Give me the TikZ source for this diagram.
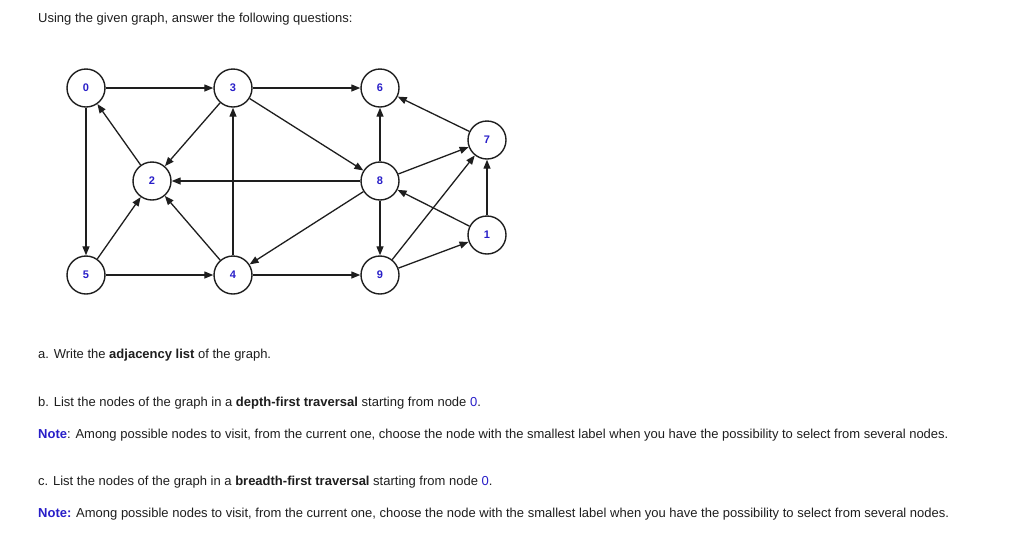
\documentclass[tikz,border=0pt]{standalone}
\usepackage{fontspec}
\setmainfont{Liberation Sans}
\usetikzlibrary{arrows.meta}
\definecolor{nblue}{RGB}{40,30,200}
\definecolor{ink}{RGB}{30,30,30}
\begin{document}
\begin{tikzpicture}[x=1pt,y=-1pt,
  vtx/.style={circle,draw=ink,line width=1.4pt,minimum size=38pt,inner sep=0pt,font=\fontsize{11}{13}\selectfont\bfseries,text=nblue},
  edge/.style={-{Triangle[length=9pt,width=7pt]},line width=1.3pt,draw=ink},
  txt/.style={anchor=base west,inner sep=0pt,font=\fontsize{13}{15}\selectfont,text=ink}]
\useasboundingbox (0,0) rectangle (1024,542);
\node[txt] (t) at (38,22) {Using the given graph, answer the following questions:};
\node[vtx] (n0) at (86,88) {0};
\node[vtx] (n3) at (233,88) {3};
\node[vtx] (n6) at (380,88) {6};
\node[vtx] (n7) at (487,140) {7};
\node[vtx] (n2) at (152,181) {2};
\node[vtx] (n8) at (380,181) {8};
\node[vtx] (n1) at (487,235) {1};
\node[vtx] (n5) at (86,275) {5};
\node[vtx] (n4) at (233,275) {4};
\node[vtx] (n9) at (380,275) {9};
\foreach \a/\b in {0/3,3/6,0/5,2/0,3/2,3/8,4/3,8/6,7/6,8/7,8/2,8/4,8/9,1/8,1/7,9/7,9/1,5/2,4/2,5/4,4/9}
  \draw[edge] (n\a) -- (n\b);
\node[txt] (a) at (38,358) {a. Write the \textbf{adjacency list} of the graph.};
\node[txt] (b) at (38,406) {b. List the nodes of the graph in a \textbf{depth-first traversal} starting from node \textcolor{nblue}{0}.};
\node[txt] (bn) at (38,438) {\textcolor{nblue}{\textbf{Note}}: Among possible nodes to visit, from the current one, choose the node with the smallest label when you have the possibility to select from several nodes.};
\node[txt] (c) at (38,485) {c. List the nodes of the graph in a \textbf{breadth-first traversal} starting from node \textcolor{nblue}{0}.};
\node[txt] (cn) at (38,517) {\textcolor{nblue}{\textbf{Note:}} Among possible nodes to visit, from the current one, choose the node with the smallest label when you have the possibility to select from several nodes.};
\end{tikzpicture}
\end{document}
